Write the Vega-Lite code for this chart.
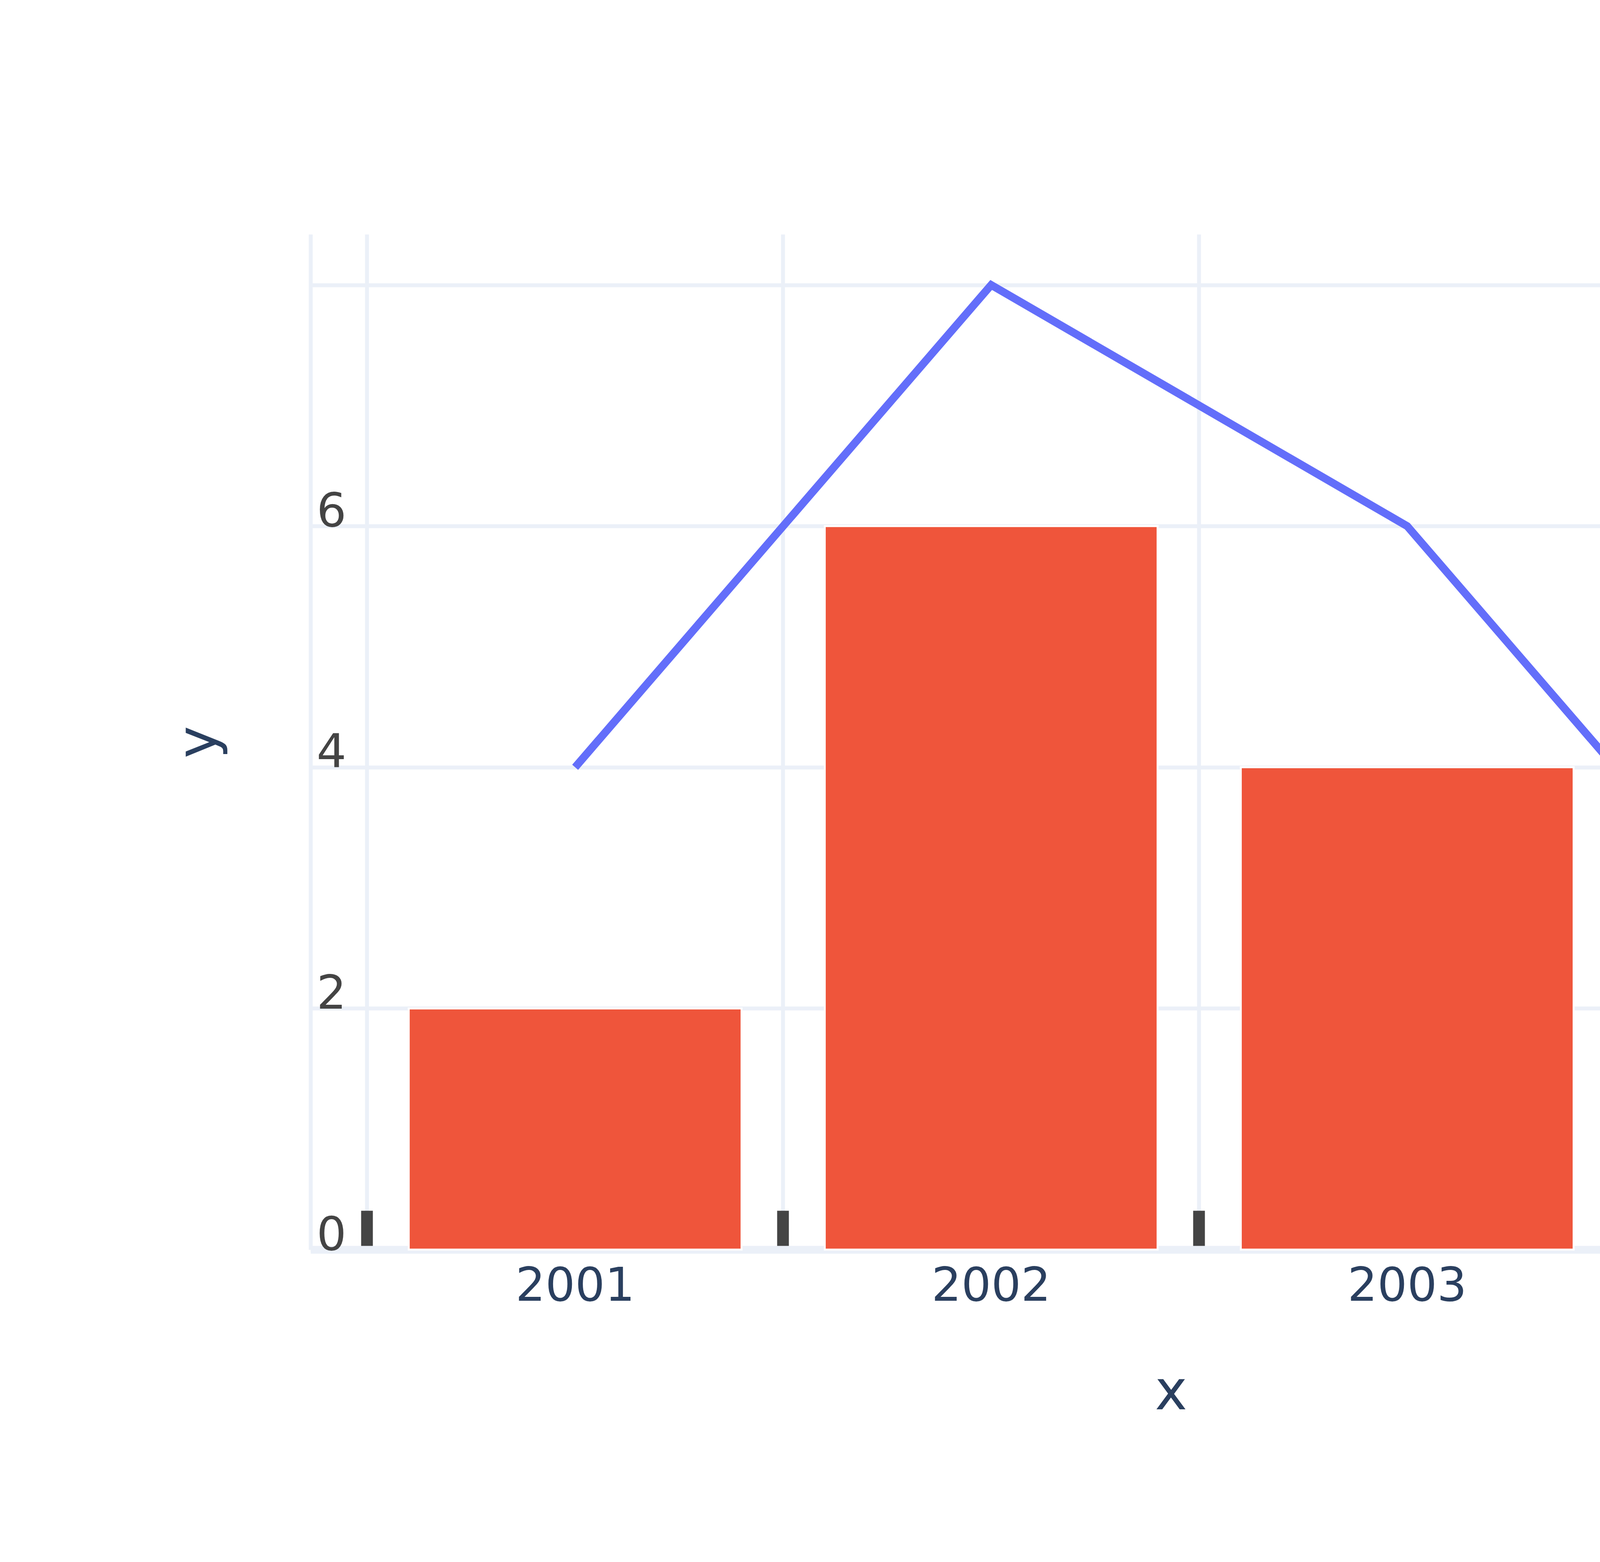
{
  "$schema": "https://vega.github.io/schema/vega-lite/v6.json",
  "background": "white",
  "autosize": "none",
  "width": 4405,
  "height": 2600,
  "padding": {"left": 795, "top": 600, "right": 800, "bottom": 800},
  "view": {"stroke": null},
  "config": {
    "font": "DejaVu Sans"
  },
  "data": {
    "values": [
      {"x": "2001", "bar": 2, "line": 4},
      {"x": "2002", "bar": 6, "line": 8},
      {"x": "2003", "bar": 4, "line": 6},
      {"x": "2004", "bar": 1, "line": 2}
    ]
  },
  "encoding": {
    "x": {
      "field": "x",
      "type": "ordinal",
      "scale": {"type": "band", "paddingInner": 0, "paddingOuter": 0.068, "align": 1},
      "axis": {
        "title": "x",
        "zindex": 0,
        "bandPosition": 0,
        "labelAngle": 0,
        "labelFontSize": 120,
        "labelColor": "#2a3f5f",
        "labelBaseline": "alphabetic",
        "labelPadding": 230,
        "labelOverlap": false,
        "labelLimit": 0,
        "labelBound": false,
        "grid": true,
        "gridColor": "#EBF0F8",
        "gridWidth": 10,
        "domain": true,
        "domainColor": "#EBF0F8",
        "domainWidth": 20,
        "ticks": true,
        "tickColor": "#444444",
        "tickWidth": 30,
        "tickSize": -100,
        "tickCap": "butt",
        "titleFontSize": 140,
        "titleFontWeight": "normal",
        "titleColor": "#2a3f5f",
        "titleBaseline": "alphabetic",
        "titleY": 408
      }
    }
  },
  "layer": [
    {
      "mark": {"type": "bar", "width": {"band": 0.8}, "color": "#EF553B", "stroke": "white", "strokeWidth": 5},
      "encoding": {
        "y": {
          "field": "bar",
          "type": "quantitative",
          "scale": {"domain": [0, 8.42], "nice": false},
          "axis": {
            "title": "y",
            "zindex": 0,
            "values": [0, 2, 4, 6, 8],
            "format": "d",
            "labelExpr": "datum.value >= 8 ? '' : datum.label",
            "labelFontSize": 120,
            "labelColor": "#444444",
            "labelAlign": "left",
            "labelBaseline": "alphabetic",
            "labelPadding": -15,
            "labelDy": -40,
            "labelFlush": false,
            "labelOverlap": false,
            "labelLimit": 0,
            "labelBound": false,
            "ticks": false,
            "grid": true,
            "gridColor": "#EBF0F8",
            "gridWidth": 10,
            "domain": true,
            "domainColor": "#EBF0F8",
            "domainWidth": 10,
            "titleFontSize": 140,
            "titleFontWeight": "normal",
            "titleColor": "#2a3f5f",
            "titleBaseline": "alphabetic",
            "titleAngle": 270,
            "titleX": -243,
            "titleY": 1300
          }
        }
      }
    },
    {
      "mark": {"type": "line", "color": "#636efa", "strokeWidth": 20, "strokeJoin": "miter", "strokeCap": "butt"},
      "encoding": {
        "y": {"field": "line", "type": "quantitative"}
      }
    }
  ]
}
